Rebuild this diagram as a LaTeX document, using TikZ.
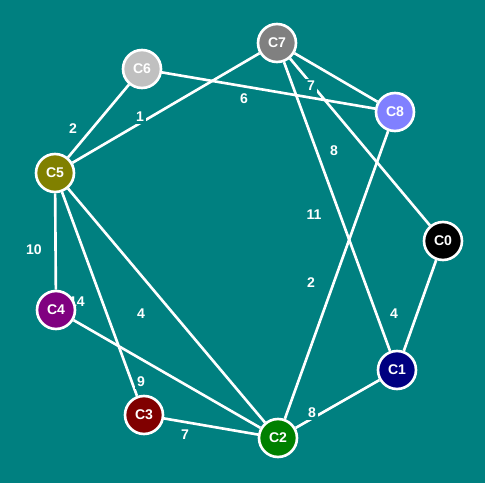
\documentclass[tikz,border=0pt]{standalone}
\usepackage{fontspec}
\setsansfont{Liberation Sans}
\usetikzlibrary{positioning}
\usepackage{xcolor}
\definecolor{GraphTeal}{RGB}{0,128,128}
\definecolor{GraphNavy}{RGB}{0,0,128}
\definecolor{GraphGreen}{RGB}{0,128,0}
\definecolor{GraphMaroon}{RGB}{128,0,0}
\definecolor{GraphPurple}{RGB}{128,0,128}
\definecolor{GraphOlive}{RGB}{128,128,0}
\definecolor{GraphSilver}{RGB}{192,192,192}
\definecolor{GraphGray}{RGB}{128,128,128}
\definecolor{GraphLilac}{RGB}{128,128,255}
\pgfdeclarelayer{background}
\pgfsetlayers{background,main}

\begin{document}
\begin{tikzpicture}[
x=0.02cm,y=-0.02cm,
vertex/.style={circle,draw=white,line width=1.5pt,minimum size=0.76cm,inner sep=0pt,
font=\sffamily\bfseries\footnotesize,text=white},
edge/.style={draw=white,line width=1.5pt},
weight/.style={fill=GraphTeal,inner sep=1pt,font=\sffamily\bfseries\footnotesize,text=white}
]
\begin{pgfonlayer}{background}
\fill[GraphTeal] (0,0) rectangle (485,483);
\end{pgfonlayer}
\node[vertex,fill=black] (c0) at (443,241) {C0};
\node[vertex,fill=GraphNavy] (c1) at (397,370) {C1};
\node[vertex,fill=GraphGreen] (c2) at (278,438) {C2};
\node[vertex,fill=GraphMaroon] (c3) at (144,415) {C3};
\node[vertex,fill=GraphPurple] (c4) at (56,310) {C4};
\node[vertex,fill=GraphOlive] (c5) at (55,173) {C5};
\node[vertex,fill=GraphSilver] (c6) at (142,69) {C6};
\node[vertex,fill=GraphGray] (c7) at (277,43) {C7};
\node[vertex,fill=GraphLilac] (c8) at (395,112) {C8};
\begin{pgfonlayer}{background}
\draw[edge] (c5)--(c6); \draw[edge] (c5)--(c7); \draw[edge] (c6)--(c8);
\draw[edge] (c7)--(c8); \draw[edge] (c7)--(c0); \draw[edge] (c7)--(c1);
\draw[edge] (c8)--(c2); \draw[edge] (c0)--(c1); \draw[edge] (c1)--(c2);
\draw[edge] (c2)--(c3); \draw[edge] (c3)--(c5); \draw[edge] (c4)--(c5);
\draw[edge] (c4)--(c2); \draw[edge] (c5)--(c2);
% weights
\node[weight] (w56) at (73,129) {2};
\node[weight] (w57) at (140,117) {1};
\node[weight] (w68) at (244,99) {6};
\node[weight] (w70) at (311,86) {7};
\node[weight] (w71) at (334,151) {8};
\node[weight] (w78) at (314,215) {11};
\node[weight] (w82) at (311,283) {2};
\node[weight] (w45) at (34,250) {10};
\node[weight] (w42) at (77,302) {14};
\node[weight] (w52) at (141,314) {4};
\node[weight] (w01) at (394,314) {4};
\node[weight] (w35) at (141,382) {9};
\node[weight] (w23) at (185,435) {7};
\node[weight] (w12) at (312,413) {8};
\end{pgfonlayer}
\end{tikzpicture}
\end{document}
